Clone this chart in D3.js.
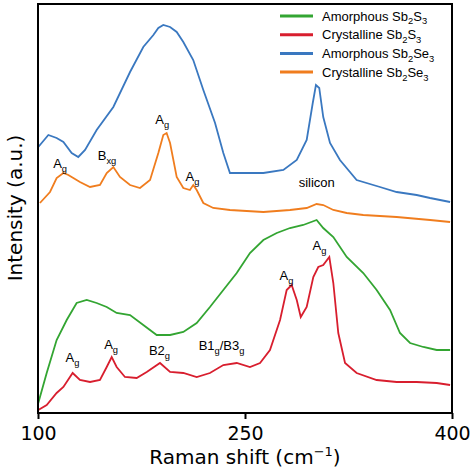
<!DOCTYPE html>
<html><head><meta charset="utf-8">
<script src="https://cdn.jsdelivr.net/npm/d3@7"></script>
<style>body{margin:0;background:#fff}text{font-family:"DejaVu Sans",sans-serif}.lab{font-family:"Liberation Sans",Arial,sans-serif}</style>
</head><body><svg id="c" width="474" height="471"></svg>
<script>
const xTicks=[100,250,400];
const blueW=[100.2,107.5,113.5,118.4,124.4,129.2,134.1,142.5,154.6,166.7,176.3,183.6,187.2,190.8,195.7,200.5,205.3,212.5,219.8,228.3,234.3,239.1,248.8,263.3,277.8,287.5,294.7,299.1,301.4,303.8,306.7,311.6,318.8,330.9,347.8,359.9,374.4,384.1,398.6];
const blueI=[266,278,275,271,260,256,263,283,306,341,366,378,385,388,386,381,371,353,323,290,260,240,240,240,243,253,273,310,328,325,296,270,253,233,226,221,218,215,211];
const orangeW=[101.4,108.7,113.5,118.4,122,125.6,130.4,137.7,144.9,149.8,154.6,159.4,166.7,173.9,181.2,187.2,190.8,193.2,195.7,200.5,205.3,210.1,212.5,215,219.8,227,239.1,263.3,282.6,294.7,301.9,306.7,314,323.7,335.7,359.9,384.1,398.6];
const orangeI=[210,221,235,240,238,235,231,226,228,240,246,236,228,225,233,260,278,280,270,236,225,223,228,223,210,205,203,201,203,205,209,208,203,200,198,196,193,191];
const greenW=[100.2,106.3,113.5,120.8,128,135.3,142.5,149.8,157,166.7,176.3,186,195.7,205.3,215,224.6,234.3,244,253.6,263.3,273,282.6,292.2,301.9,306.7,314,323.7,335.7,345.4,355.1,362.3,369.6,379.2,388.9,398.6];
const greenI=[10,40,73,93,110,113,110,106,100,98,88,78,78,81,90,106,123,140,160,173,180,185,188,193,185,176,156,140,123,103,80,70,66,63,63];
const redW=[100.2,106.3,113.5,118.4,125.1,130.4,137.7,144.9,149.8,153.4,157,163,171.5,178.8,188.4,195.7,205.3,215,224.6,234.3,244,253.6,260.9,268.1,275.4,280.2,283.8,287.5,290.4,294.7,299.5,303.1,306.7,311.1,314,317.6,322.5,330.9,345.4,359.9,374.4,388.9,398.6];
const redI=[3,8,20,26,40,33,31,33,46,56,46,36,35,41,50,41,40,36,40,48,50,46,50,63,93,123,128,113,96,106,136,146,148,156,130,80,50,40,33,31,31,30,28];
const seriesNames=["Amorphous Sb|2|S|3","Crystalline Sb|2|S|3","Amorphous Sb|2|Se|3","Crystalline Sb|2|Se|3"];
const colors=["#33a532","#d81e2e","#3a78c0","#f07d1e"];
const labelText=["A|g","B|xg","A|g","A|g","silicon","A|g","A|g","B2|g","B1|g|/B3|g","A|g","A|g"];
const labelW=[116,150,190,212,302,125,153,188,233,280,304];
const labelI=[245,253,289,232,226,51,64,58,63,133,163];

const svg=d3.select("#c");
const x=d3.scaleLinear().domain([100,400]).range([38,452]);
const y=d3.scaleLinear().domain([0,409]).range([413,4]);
const line=d3.line().x(d=>x(d[0])).y(d=>y(d[1]));
const data=[[greenW,greenI],[redW,redI],[blueW,blueI],[orangeW,orangeI]];
data.forEach((s,i)=>{
  svg.append("path").datum(s[0].map((w,j)=>[w,s[1][j]])).attr("d",line)
    .attr("fill","none").attr("stroke",colors[i]).attr("stroke-width",1.8);
});
svg.append("rect").attr("x",38).attr("y",4).attr("width",414).attr("height",409)
  .attr("fill","none").attr("stroke","#000").attr("stroke-width",2);
const ax=svg.append("g").attr("transform","translate(0,413)")
  .call(d3.axisBottom(x).tickValues(xTicks).tickSize(6).tickFormat(d3.format("d")));
ax.select(".domain").remove();
ax.selectAll("line").attr("stroke-width",2);
ax.selectAll("text").attr("font-size",19).attr("dy","0.95em").style("font-family","DejaVu Sans");
function rich(t,str,size){
  str.split("|").forEach((p,k)=>{
    if(!p)return;
    const sub=k%2===1;
    t.append("tspan").text(p).attr("font-size",sub?size*0.72:size)
      .attr("dy",sub?size*0.3:(k>0?-size*0.3:0));
  });
}
const xl=svg.append("text").attr("x",245).attr("y",464).attr("text-anchor","middle").attr("font-size",20);
xl.append("tspan").text("Raman shift (cm");
xl.append("tspan").text("−1").attr("font-size",13).attr("dy",-8);
xl.append("tspan").text(")").attr("dy",8);
svg.append("text").attr("transform","translate(22,208) rotate(-90)").attr("text-anchor","middle")
  .attr("font-size",20).text("Intensity (a.u.)");
seriesNames.forEach((n,i)=>{
  const yy=16+i*18.7;
  svg.append("line").attr("x1",280).attr("x2",313).attr("y1",yy).attr("y2",yy)
    .attr("stroke",colors[i]).attr("stroke-width",3);
  const t=svg.append("text").attr("class","lab").attr("x",322).attr("y",yy+4.5);
  rich(t,n,13);
});
labelText.forEach((s,i)=>{
  const t=svg.append("text").attr("class","lab").attr("x",x(labelW[i])).attr("y",y(labelI[i])).attr("text-anchor","middle");
  rich(t,s,13);
});
</script></body></html>
